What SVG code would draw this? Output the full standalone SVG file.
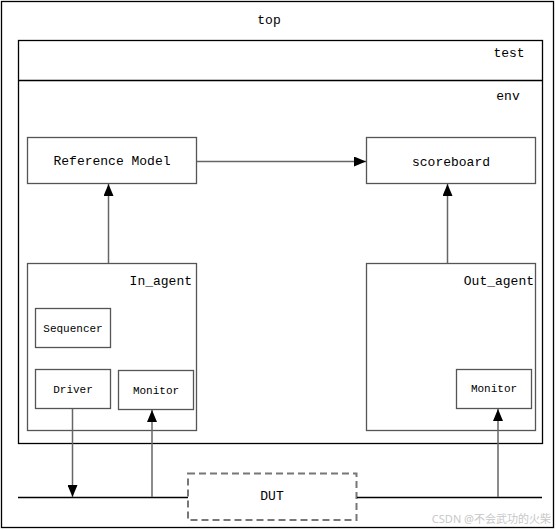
<svg xmlns="http://www.w3.org/2000/svg" width="556" height="530" viewBox="0 0 556 530">
<defs>
<marker id="ah" markerWidth="12" markerHeight="10" refX="12" refY="5" orient="auto" markerUnits="userSpaceOnUse">
<path d="M0,0 L12,5 L0,10 Z" fill="#000"/>
</marker>
<style>
.t{font-family:"Liberation Mono","DejaVu Sans Mono",monospace;font-size:13px;fill:#000}
.s{font-family:"Liberation Mono","DejaVu Sans Mono",monospace;font-size:11px;fill:#000}
.frame{fill:none;stroke:#000;stroke-width:1.3}
.box{fill:#fff;stroke:#555;stroke-width:1.3}
.con{fill:none;stroke:#666;stroke-width:1.5}
.bus{fill:none;stroke:#000;stroke-width:1.3}
</style>
</defs>
<rect width="556" height="530" fill="#fff"/>
<g id="top">
<rect class="frame" x="1.5" y="1.5" width="552" height="526"/>
<text class="t" x="269" y="24" text-anchor="middle">top</text>
</g>
<g id="test">
<rect class="frame" x="18.5" y="40.5" width="524" height="403"/>
<text class="t" x="509" y="57" text-anchor="middle">test</text>
</g>
<g id="env">
<line class="frame" x1="18.5" y1="80.5" x2="542.5" y2="80.5"/>
<text class="t" x="508" y="100" text-anchor="middle">env</text>
</g>
<g id="refmodel">
<rect class="box" x="27.5" y="137.5" width="169" height="46"/>
<text class="t" x="112" y="165" text-anchor="middle">Reference Model</text>
</g>
<g id="scoreboard">
<rect class="box" x="366.5" y="137.5" width="169" height="46"/>
<text class="t" x="451" y="166" text-anchor="middle">scoreboard</text>
</g>
<g id="in_agent">
<rect class="box" x="27.5" y="263.5" width="169" height="167"/>
<text class="t" x="192" y="285" text-anchor="end">In_agent</text>
</g>
<g id="out_agent">
<rect class="box" x="366.5" y="263.5" width="169" height="167"/>
<text class="t" x="534" y="285" text-anchor="end">Out_agent</text>
</g>
<g id="sequencer">
<rect class="box" x="35.5" y="308.5" width="75" height="39"/>
<text class="s" x="73" y="332" text-anchor="middle">Sequencer</text>
</g>
<g id="driver">
<rect class="box" x="35.5" y="369.5" width="75" height="39"/>
<text class="s" x="73" y="393" text-anchor="middle">Driver</text>
</g>
<g id="in_monitor">
<rect class="box" x="118.5" y="370.5" width="75" height="39"/>
<text class="s" x="156" y="394" text-anchor="middle">Monitor</text>
</g>
<g id="out_monitor">
<rect class="box" x="456.5" y="369.5" width="75" height="39"/>
<text class="s" x="494" y="392" text-anchor="middle">Monitor</text>
</g>
<g id="dut">
<rect x="188" y="473.5" width="168.5" height="46.5" fill="none" stroke="#777" stroke-width="2" stroke-dasharray="7,4"/>
<text class="t" x="272" y="500" text-anchor="middle">DUT</text>
</g>
<g id="connectors">
<line class="bus" x1="18" y1="497.5" x2="188" y2="497.5"/>
<line class="bus" x1="357" y1="497.5" x2="542" y2="497.5"/>
<line class="con" x1="197" y1="161.5" x2="366" y2="161.5" marker-end="url(#ah)"/>
<line class="con" x1="108.5" y1="263" x2="108.5" y2="184" marker-end="url(#ah)"/>
<line class="con" x1="447.5" y1="263" x2="447.5" y2="184" marker-end="url(#ah)"/>
<line class="con" x1="72.5" y1="409" x2="72.5" y2="497" marker-end="url(#ah)"/>
<line class="con" x1="152" y1="497" x2="152" y2="410" marker-end="url(#ah)"/>
<line class="con" x1="498" y1="497" x2="498" y2="409" marker-end="url(#ah)"/>
</g>
<text x="551" y="523" text-anchor="end" font-family="'Noto Sans','Noto Sans CJK SC',sans-serif" font-size="11" fill="#c8c8c8">CSDN @不会武功的火柴</text>
</svg>
